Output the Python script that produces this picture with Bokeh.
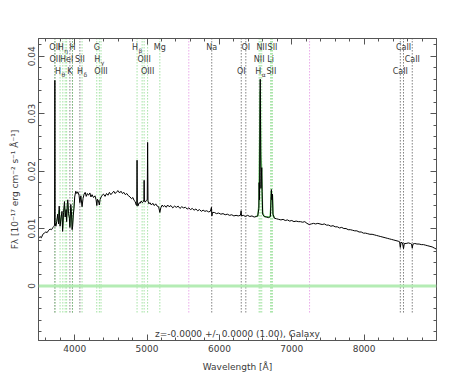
from bokeh.plotting import figure
from bokeh.models import (ColumnDataSource, LinearAxis, FixedTicker, CustomJSTickFormatter, Span)
from bokeh.core.properties import value
from bokeh.embed import file_html
from bokeh.resources import INLINE

# ---------------- data ----------------
spec_wave = [3500, 3520, 3540, 3560, 3580, 3600, 3620, 3640, 3660, 3680, 3700, 3715, 3722, 3726, 3730,
             3740, 3752, 3765, 3778, 3786, 3798, 3813, 3825, 3833, 3846, 3859, 3869, 3882, 3889, 3897,
             3905, 3915, 3928, 3934, 3946, 3955, 3965, 3972, 3980, 3990, 4000, 4015, 4030, 4043, 4060,
             4072, 4085, 4102, 4115, 4130, 4145, 4160, 4175, 4191, 4210, 4225, 4240, 4260, 4280, 4296,
             4306, 4315, 4329, 4341, 4352, 4365, 4380, 4398, 4420, 4440, 4460, 4480, 4500, 4520, 4540,
             4560, 4580, 4600, 4620, 4640, 4660, 4680, 4700, 4720, 4743, 4765, 4785, 4805, 4820, 4836,
             4850, 4858, 4862, 4866, 4875, 4890, 4905, 4920, 4935, 4950, 4957, 4960, 4964, 4975, 4990,
             5003, 5008, 5013, 5025, 5042, 5060, 5080, 5100, 5120, 5140, 5160, 5177, 5190, 5210, 5226,
             5245, 5265, 5285, 5305, 5330, 5355, 5380, 5405, 5430, 5455, 5480, 5505, 5530, 5555, 5577,
             5600, 5625, 5650, 5675, 5700, 5725, 5750, 5775, 5800, 5825, 5850, 5875, 5890, 5896, 5905,
             5930, 5960, 5990, 6020, 6050, 6080, 6110, 6140, 6170, 6200, 6230, 6260, 6290, 6300, 6306,
             6330, 6360, 6390, 6420, 6450, 6480, 6510, 6530, 6545, 6549, 6555, 6560, 6564, 6568, 6574,
             6580, 6585, 6590, 6598, 6620, 6650, 6680, 6705, 6712, 6718, 6725, 6733, 6740, 6760, 6790,
             6820, 6850, 6880, 6910, 6940, 6970, 7000, 7030, 7060, 7090, 7120, 7150, 7180, 7210, 7240,
             7270, 7300, 7330, 7360, 7390, 7420, 7450, 7480, 7510, 7540, 7570, 7600, 7630, 7660, 7690,
             7720, 7750, 7780, 7810, 7840, 7870, 7900, 7930, 7960, 7990, 8020, 8050, 8080, 8110, 8140,
             8170, 8200, 8230, 8260, 8290, 8320, 8350, 8380, 8410, 8440, 8470, 8490, 8500, 8510, 8530,
             8544, 8555, 8580, 8610, 8640, 8655, 8665, 8675, 8700, 8730, 8760, 8790, 8820, 8850, 8880,
             8910, 8940, 8970, 9000]
spec_flux = [0.0083, 0.0086, 0.0084, 0.0090, 0.0092, 0.0094, 0.0093, 0.0097, 0.0099, 0.0098, 0.0102, 0.0104, 0.0106, 0.0358, 0.0110,
             0.0104, 0.0112, 0.0125, 0.0108, 0.0139, 0.0104, 0.0120, 0.0130, 0.0095, 0.0128, 0.0147, 0.0120, 0.0133, 0.0112, 0.0142,
             0.0150, 0.0126, 0.0118, 0.0102, 0.0142, 0.0130, 0.0098, 0.0104, 0.0122, 0.0135, 0.0155, 0.0165, 0.0161, 0.0164, 0.0158,
             0.0145, 0.0157, 0.0138, 0.0152, 0.0160, 0.0163, 0.0156, 0.0161, 0.0158, 0.0162, 0.0155, 0.0159, 0.0154, 0.0157, 0.0150,
             0.0140, 0.0151, 0.0148, 0.0141, 0.0151, 0.0155, 0.0158, 0.0160, 0.0156, 0.0161, 0.0158, 0.0163, 0.0159, 0.0162, 0.0165,
             0.0161, 0.0164, 0.0166, 0.0162, 0.0165, 0.0161, 0.0163, 0.0159, 0.0161, 0.0157, 0.0155, 0.0152, 0.0154, 0.0149, 0.0147,
             0.0141, 0.0140, 0.0219, 0.0140, 0.0139, 0.0145, 0.0144, 0.0148, 0.0145, 0.0147, 0.0150, 0.0184, 0.0148, 0.0146, 0.0149,
             0.0150, 0.0250, 0.0148, 0.0143, 0.0145, 0.0141, 0.0144, 0.0140, 0.0143, 0.0139, 0.0138, 0.0128, 0.0136, 0.0141, 0.0138,
             0.0140, 0.0137, 0.0141, 0.0138, 0.0140, 0.0136, 0.0139, 0.0137, 0.0139, 0.0135, 0.0138, 0.0136, 0.0137, 0.0134, 0.0136,
             0.0133, 0.0135, 0.0132, 0.0134, 0.0131, 0.0133, 0.0130, 0.0132, 0.0130, 0.0131, 0.0129, 0.0130, 0.0137, 0.0122, 0.0128,
             0.0128, 0.0126, 0.0127, 0.0125, 0.0126, 0.0124, 0.0125, 0.0123, 0.0124, 0.0122, 0.0123, 0.0122, 0.0123, 0.0131, 0.0122,
             0.0123, 0.0121, 0.0123, 0.0121, 0.0122, 0.0120, 0.0121, 0.0122, 0.0135, 0.0180, 0.0150, 0.0300, 0.0360, 0.0290, 0.0170,
             0.0190, 0.0206, 0.0165, 0.0125, 0.0121, 0.0120, 0.0119, 0.0121, 0.0150, 0.0168, 0.0150, 0.0160, 0.0125, 0.0118, 0.0117,
             0.0116, 0.0115, 0.0116, 0.0114, 0.0115, 0.0113, 0.0114, 0.0112, 0.0113, 0.0112, 0.0112, 0.0111, 0.0112, 0.0109, 0.0107,
             0.0108, 0.0109, 0.0108, 0.0109, 0.0108, 0.0107, 0.0108, 0.0106, 0.0106, 0.0104, 0.0105, 0.0103, 0.0103, 0.0101, 0.0102,
             0.0100, 0.0100, 0.0098, 0.0098, 0.0097, 0.0096, 0.0096, 0.0094, 0.0094, 0.0092, 0.0092, 0.0091, 0.0090, 0.0090, 0.0089,
             0.0088, 0.0087, 0.0086, 0.0085, 0.0084, 0.0083, 0.0082, 0.0081, 0.0080, 0.0079, 0.0078, 0.0077, 0.0067, 0.0076, 0.0075,
             0.0065, 0.0074, 0.0074, 0.0075, 0.0074, 0.0073, 0.0066, 0.0073, 0.0074, 0.0073, 0.0073, 0.0072, 0.0072, 0.0071, 0.0070,
             0.0069, 0.0068, 0.0066, 0.0064]

# green model fit, visible around the blue absorption lines and the H-alpha complex
model_blue_wave = [3740, 3760, 3786, 3800, 3820, 3835, 3859, 3875, 3889, 3905, 3920, 3934, 3950, 3966, 3980, 4000]
model_blue_flux = [0.0106, 0.0118, 0.0132, 0.0110, 0.0124, 0.0100, 0.0140, 0.0128, 0.0116, 0.0145, 0.0125, 0.0105, 0.0136, 0.0100, 0.0125, 0.0152]
model_red_wave = [6500, 6530, 6545, 6556, 6564, 6572, 6585, 6596, 6620, 6700, 6712, 6718, 6726, 6733, 6742, 6760]
model_red_flux = [0.0121, 0.0122, 0.0140, 0.0250, 0.0340, 0.0230, 0.0200, 0.0128, 0.0121, 0.0120, 0.0140, 0.0165, 0.0148, 0.0158, 0.0124, 0.0118]

# spectral line markers
line_wave = [3726, 3729, 3798, 3836, 3869, 3889, 3934, 3969, 3970, 4072, 4102, 4305, 4341, 4364,
             4862, 4932, 4960, 5008, 5177, 5577, 5894, 6302, 6365, 6549, 6564, 6585, 6708, 6718, 6733,
             7246, 8500, 8544, 8665]
line_name = ["OII", "OII", "H", "H", "", "HeI", "K", "H", "", "SII", "H", "G", "H", "OIII",
             "H", "", "OIII", "OIII", "Mg", "", "Na", "OI", "OI", "NII", "H", "NII", "Li", "SII", "SII",
             "", "CaII", "CaII", "CaII"]
line_sub = ["", "", "θ", "η", "", "", "", "", "", "", "δ", "", "γ", "",
            "β", "", "", "", "", "", "", "", "", "", "α", "", "", "", "",
            "", "", "", ""]
line_row = [1, 2, 3, 1, 0, 2, 3, 1, 0, 2, 3, 1, 2, 3,
            1, 0, 2, 3, 1, 0, 1, 3, 1, 2, 3, 1, 2, 3, 1,
            0, 3, 1, 2]
line_kind = ["abs", "em", "em", "em", "em", "em", "abs", "abs", "em", "abs", "em", "em", "em", "em",
             "em", "em", "em", "em", "em", "sky", "abs", "abs", "abs", "em", "em", "em", "em", "em", "em",
             "sky", "abs", "abs", "abs"]

x_ticks = [4000, 5000, 6000, 7000, 8000]
y_ticks = [-0.01, 0.0, 0.01, 0.02, 0.03, 0.04]
y_tick_labels = ["-0.01", "0", "0.01", "0.02", "0.03", "0.04"]
note_text = "z=-0.0000 +/- 0.0000 (1.00), Galaxy"

# ---------------- styling ----------------
X0, X1 = 3500, 9000
Y0, Y1 = -0.0095, 0.0431
LINE_BOTTOM = -0.0046
FONT = "DejaVu Sans"
TXT = "#3a3a3a"
kind_color = {"em": "#74d474", "abs": "#404040", "sky": "#e07ee0"}

p = figure(width=466, height=374, x_range=(X0, X1), y_range=(Y0, Y1),
           output_backend="svg", toolbar_location=None,
           min_border_left=38, min_border_right=30, min_border_top=38, min_border_bottom=34)
p.grid.visible = False
p.outline_line_color = "#555555"
p.background_fill_color = "white"
p.border_fill_color = "white"

minor_x = [v for t in [3000] + x_ticks for v in (t + 200, t + 400, t + 600, t + 800)]
minor_y = [round(t + k * 0.002, 4) for t in [-0.02] + y_ticks for k in (1, 2, 3, 4)]
fmt = CustomJSTickFormatter(args=dict(vals=y_ticks, labels=y_tick_labels), code="""
let best = 0;
for (let i = 0; i < vals.length; i++) {
  if (Math.abs(vals[i] - tick) < Math.abs(vals[best] - tick)) best = i;
}
return labels[best];
""")
blank_fmt = CustomJSTickFormatter(code="return '';")

def style_axis(ax, show_labels):
    ax.axis_line_color = "#555555"
    ax.major_tick_line_color = "#555555"
    ax.minor_tick_line_color = "#555555"
    ax.major_tick_in = 6
    ax.major_tick_out = 0
    ax.minor_tick_in = 3
    ax.minor_tick_out = 0
    ax.major_label_text_font = FONT
    ax.major_label_text_color = TXT
    ax.axis_label_text_font = FONT
    ax.axis_label_text_color = TXT
    ax.axis_label_text_font_style = "normal"
    ax.major_label_text_font_size = "9px"
    if not show_labels:
        ax.formatter = blank_fmt
        ax.major_label_standoff = 0

xb = p.xaxis[0]
xb.ticker = FixedTicker(ticks=x_ticks, minor_ticks=minor_x)
style_axis(xb, True)
xb.major_label_standoff = 4
xb.axis_label = "Wavelength [Å]"
xb.axis_label_text_font_size = "9px"
xb.axis_label_standoff = 7

yl = p.yaxis[0]
yl.ticker = FixedTicker(ticks=y_ticks, minor_ticks=minor_y)
yl.formatter = fmt
style_axis(yl, True)
yl.major_label_orientation = "vertical"
yl.major_label_standoff = 3
yl.axis_label = "Fλ [10⁻¹⁷ erg cm⁻² s⁻¹ Å⁻¹]"
yl.axis_label_text_font_size = "9px"
yl.axis_label_standoff = 6

xt = LinearAxis(ticker=FixedTicker(ticks=x_ticks, minor_ticks=minor_x))
style_axis(xt, False)
p.add_layout(xt, "above")
yr = LinearAxis(ticker=FixedTicker(ticks=y_ticks, minor_ticks=minor_y))
style_axis(yr, False)
p.add_layout(yr, "right")

# zero reference line
p.add_layout(Span(location=0, dimension="width", line_color="#b4ecb4", line_width=3))

# dotted line markers
seg_src = ColumnDataSource(dict(
    x=line_wave, y0=[LINE_BOTTOM] * len(line_wave), y1=[Y1] * len(line_wave),
    color=[kind_color[k] for k in line_kind]))
p.segment(x0="x", x1="x", y0="y0", y1="y1", source=seg_src, line_color="color",
          line_dash="1 2", line_width=1)

# model and spectrum
p.line(model_blue_wave, model_blue_flux, line_color="#6fcf6f", line_width=1)
p.line(model_red_wave, model_red_flux, line_color="#6fcf6f", line_width=1.5)
p.line(spec_wave, spec_flux, line_color="black", line_width=1)

# line labels
row_off = {1: 9, 2: 21, 3: 33}
lab_x, lab_y, lab_t, lab_xo, lab_yo = [], [], [], [], []
sub_x, sub_y, sub_t, sub_yo = [], [], [], []
for w, n, s, r in zip(line_wave, line_name, line_sub, line_row):
    if not n:
        continue
    lab_x.append(w); lab_y.append(Y1); lab_t.append(n)
    lab_xo.append(-2 if s else 0); lab_yo.append(row_off[r])
    if s:
        sub_x.append(w); sub_y.append(Y1); sub_t.append(s); sub_yo.append(row_off[r] + 3)
p.text(x="x", y="y", text="t", x_offset="xo", y_offset="yo",
       source=ColumnDataSource(dict(x=lab_x, y=lab_y, t=lab_t, xo=lab_xo, yo=lab_yo)),
       text_font_size="8px", text_align="center", text_baseline="middle",
       text_color=TXT, text_font=value(FONT))
p.text(x="x", y="y", text="t", y_offset="yo",
       source=ColumnDataSource(dict(x=sub_x, y=sub_y, t=sub_t, yo=sub_yo)),
       x_offset=1.5, text_font_size="6px", text_align="left", text_baseline="middle",
       text_color=TXT, text_font=value(FONT))

# redshift note
p.text(x=[(X0 + X1) / 2], y=[Y0], text=[note_text], y_offset=-7,
       text_font_size="9px", text_align="center", text_baseline="middle",
       text_color=TXT, text_font=value(FONT))

open("out.html", "w").write(file_html(p, INLINE))
